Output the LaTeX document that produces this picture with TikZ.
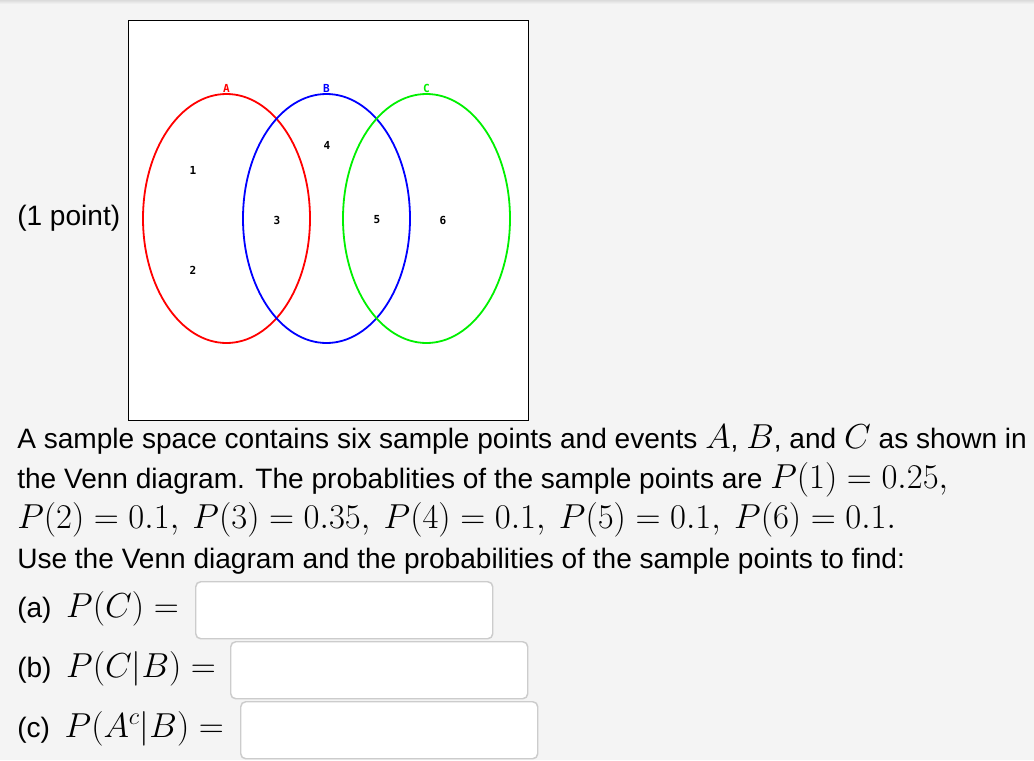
\RequirePackage{fix-cm}
\documentclass[tikz,border=0pt]{standalone}
\usepackage[no-math]{fontspec}
\setmainfont{Liberation Sans}
\newfontfamily\vennfont{DejaVu Sans Mono Bold}
\usetikzlibrary{shapes.geometric}
\definecolor{bgc}{HTML}{F4F4F4}
\definecolor{boxc}{HTML}{CCCCCC}
\definecolor{vgreen}{HTML}{00F000}
\newcommand\mth[1]{{\fontsize{26pt}{30pt}\selectfont$#1$}}
\newcommand\bodysize{\fontsize{21.05pt}{25pt}\selectfont}
\newcommand\gapsp{\hspace{10pt}}
\tikzset{
  txt/.style={anchor=base west, inner sep=0pt, font=\bodysize},
  vset/.style={draw, ellipse, line width=1.35pt, inner sep=0pt, minimum width=125.25pt, minimum height=186.75pt},
  vlab/.style={inner sep=0pt, font=\vennfont\fontsize{8.3pt}{9pt}\selectfont},
  ansbox/.style={draw=boxc, fill=white, line width=1.1pt, rounded corners=3.75pt, anchor=north west, inner sep=0pt, minimum width=222.75pt, minimum height=42.75pt},
}
\begin{document}
\begin{tikzpicture}[x=0.75pt,y=-0.75pt]
\useasboundingbox (0,0) rectangle (1034,760);
\fill[bgc] (0,0) rectangle (1034,760);
\shade[top color=black!14, bottom color=bgc] (0,0) rectangle (1034,4);
% frame
\node[draw=black, fill=white, line width=0.75pt, anchor=north west, inner sep=0pt, minimum width=300pt, minimum height=300pt] (frame) at (127.5,19.5) {};
% sets
\node[vset, draw=red] (setA) at (226.5,218.5) {};
\node[vset, draw=blue] (setB) at (326.5,218.5) {};
\node[vset, draw=vgreen] (setC) at (426.5,218.5) {};
\node[vlab, text=red, anchor=south] (labA) at (226.5,92.5) {A};
\node[vlab, text=blue, anchor=south] (labB) at (326.5,92.5) {B};
\node[vlab, text=vgreen, anchor=south] (labC) at (426.5,92.5) {C};
\node[vlab] (p1) at (193,170) {1};
\node[vlab] (p2) at (193,270) {2};
\node[vlab] (p3) at (277,220) {3};
\node[vlab] (p4) at (327,145) {4};
\node[vlab] (p5) at (377,220) {5};
\node[vlab] (p6) at (443,220) {6};
% text
\node[txt] (pts) at (17,225) {(1 point)};
\node[txt] (l1) at (17,448) {A sample space contains six sample points and events \mth{A}, \mth{B}, and \mth{C} as shown in};
\node[txt] (l2) at (17,488) {the Venn diagram. The probablities of the sample points are \mth{P(1) = 0.25,}};
\node[txt] (l3) at (17,528) {\mth{P(2) = 0.1,}\gapsp\mth{P(3) = 0.35,}\gapsp\mth{P(4) = 0.1,}\gapsp\mth{P(5) = 0.1,}\gapsp\mth{P(6) = 0.1.}};
\node[txt] (l4) at (17,568) {Use the Venn diagram and the probabilities of the sample points to find:};
\node[txt] (qa) at (17,617) {(a)\hspace{11pt}\mth{P(C) =}};
\node[txt] (qb) at (17,677) {(b)\hspace{11pt}\mth{P(C|B) =}};
\node[txt] (qc) at (17,737) {(c)\hspace{11pt}\mth{P(A^c|B) =}};
\node[ansbox] (ba) at (195,581) {};
\node[ansbox] (bb) at (230,641) {};
\node[ansbox] (bc) at (240,701) {};
\end{tikzpicture}
\end{document}
